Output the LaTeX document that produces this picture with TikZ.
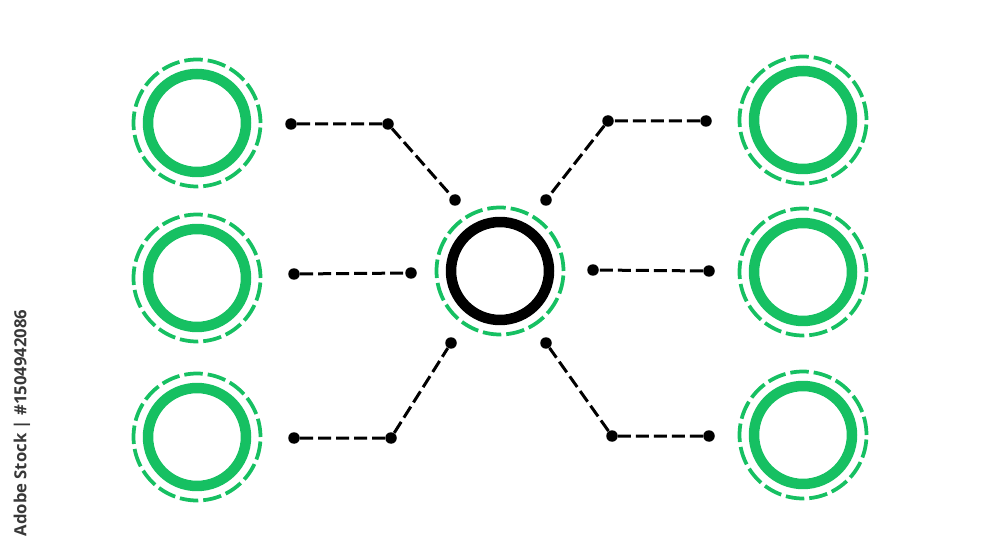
\documentclass[tikz,border=0pt]{standalone}
\usepackage{fontspec}
\setsansfont{Open Sans}
\usepackage{tikz}
\usetikzlibrary{positioning}
\definecolor{ringgreen}{RGB}{22,192,98}

\tikzset{
  ring/.style={circle, draw=ringgreen, line width=0.21cm, minimum size=1.96cm, inner sep=0},
  halo/.style={circle, draw=ringgreen, line width=0.075cm, dash pattern=on 0.37cm off 0.1cm, minimum size=2.54cm, inner sep=0},
  dot/.style={circle, fill=black, minimum size=0.23cm, inner sep=0},
  link/.style={line width=0.06cm, dash pattern=on 0.26cm off 0.1cm}
}

\begin{document}
\begin{tikzpicture}[x=0.02cm, y=-0.02cm]
                \useasboundingbox (0,0) rectangle (1000,560);

                % Hub
                \node[ring, draw=black] (hub) at (500,271) {};
                \node[halo] (hubhalo) at (hub) {};

                % Left rings
                \node[ring] (l1) at (197,123) {};
                \node[ring] (l2) at (197,278) {};
                \node[ring] (l3) at (197,437) {};
                \node[halo] (l1halo) at (l1) {};
                \node[halo] (l2halo) at (l2) {};
                \node[halo] (l3halo) at (l3) {};

                % Right rings
                \node[ring] (r1) at (803,120) {};
                \node[ring] (r2) at (803,272) {};
                \node[ring] (r3) at (803,435) {};
                \node[halo] (r1halo) at (r1) {};
                \node[halo] (r2halo) at (r2) {};
                \node[halo] (r3halo) at (r3) {};

                % Dots
                \node[dot] (la1) at (291,124) {};
                \node[dot] (la2) at (388,124) {};
                \node[dot] (la3) at (455,200) {};
                \node[dot] (lb1) at (294,274) {};
                \node[dot] (lb2) at (411,273) {};
                \node[dot] (lc1) at (294,438) {};
                \node[dot] (lc2) at (391,438) {};
                \node[dot] (lc3) at (451,343) {};
                \node[dot] (ra1) at (706,121) {};
                \node[dot] (ra2) at (608,121) {};
                \node[dot] (ra3) at (546,200) {};
                \node[dot] (rb1) at (709,271) {};
                \node[dot] (rb2) at (593,270) {};
                \node[dot] (rc1) at (709,436) {};
                \node[dot] (rc2) at (612,436) {};
                \node[dot] (rc3) at (546,343) {};

                % Links
                \draw[link] (la1) -- (la2) -- (la3);
                \draw[link] (lb1) -- (lb2);
                \draw[link] (lc1) -- (lc2) -- (lc3);
                \draw[link] (ra1) -- (ra2) -- (ra3);
                \draw[link] (rb1) -- (rb2);
                \draw[link] (rc1) -- (rc2) -- (rc3);

                \node[rotate=90, text=black!78, font=\sffamily\bfseries\fontsize{9.5}{12}\selectfont] (stockid) at (22,423) {Adobe Stock | \#1504942086};
            \end{tikzpicture}
\end{document}
